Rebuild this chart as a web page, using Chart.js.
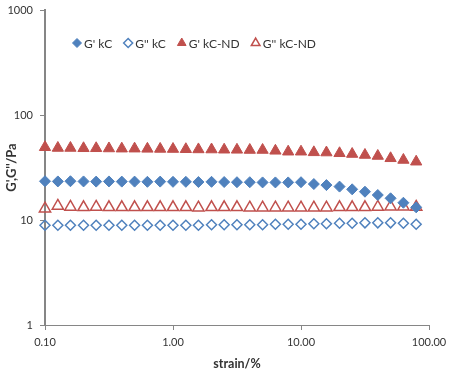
<!DOCTYPE html>
<html>
<head>
<meta charset="utf-8">
<script src="https://cdn.jsdelivr.net/npm/chart.js@4"></script>
<style>
body { margin: 0; background: #fff; }
</style>
</head>
<body>
<canvas id="strainSweep" width="474" height="377"></canvas>
<script>
// strain sweep, % (x) and moduli, Pa (y)
const strain = [0.1, 0.126, 0.158, 0.2, 0.251, 0.316, 0.398, 0.501, 0.631, 0.794,
    1, 1.26, 1.58, 2, 2.51, 3.16, 3.98, 5.01, 6.31, 7.94,
    10, 12.6, 15.8, 20, 25.1, 31.6, 39.8, 50.1, 63.1, 79.4];

const gpKC = [23.4, 23.3, 23.4, 23.3, 23.2, 23.3, 23.2, 23.2, 23.1, 23.2,
    23.1, 23.1, 23.0, 23.1, 23.0, 22.9, 22.9, 22.8, 22.8, 22.8,
    22.9, 22.0, 21.5, 20.8, 19.6, 18.6, 17.3, 16.1, 14.6, 13.2];
const gppKC = [8.9, 8.9, 8.9, 8.9, 8.9, 8.9, 8.9, 8.9, 8.9, 8.9,
    8.9, 8.9, 8.9, 9.0, 9.0, 9.0, 9.0, 9.0, 9.1, 9.1,
    9.1, 9.2, 9.2, 9.3, 9.3, 9.4, 9.4, 9.4, 9.3, 9.1];
const gpKCND = [49.3, 48.5, 48.5, 48.2, 48.2, 48.0, 47.8, 47.8, 47.6, 47.5,
    47.4, 47.2, 47.0, 46.9, 46.7, 46.6, 46.4, 46.4, 45.6, 44.7,
    44.7, 44.1, 43.9, 43.2, 42.5, 41.6, 40.7, 38.7, 37.3, 35.9];
const gppKCND = [12.8, 13.6, 13.3, 13.2, 13.3, 13.2, 13.2, 13.2, 13.2, 13.2,
    13.2, 13.2, 13.1, 13.2, 13.2, 13.2, 13.1, 13.1, 13.1, 13.1,
    13.1, 13.1, 13.1, 13.2, 13.2, 13.2, 13.3, 13.4, 13.4, 13.3];

const xTicks = [0.1, 1, 10, 100];
const yTicks = [1, 10, 100, 1000];

const blue = '#4F81BD';
const red = '#C0504D';
const axisGrey = '#868686';
const txt = '#333333';

function pts(ys) {
    return strain.map((x, i) => ({x: x, y: ys[i]}));
}

// legend sits inside the plot, top left, like the excel one
const legendInPlot = {
    id: 'legendInPlot',
    afterDraw(chart) {
        const ctx = chart.ctx;
        let x = 72;
        const y = 43;
        ctx.save();
        ctx.font = '12px Lato';
        ctx.textBaseline = 'middle';
        chart.data.datasets.forEach(ds => {
            ctx.fillStyle = ds.backgroundColor;
            ctx.strokeStyle = ds.borderColor;
            ctx.lineWidth = ds.pointBorderWidth;
            Chart.helpers.drawPoint(ctx, {
                pointStyle: ds.pointStyle,
                radius: ds.pointStyle === 'triangle' ? 5 : 4.5,
                rotation: 0,
                borderWidth: ds.pointBorderWidth
            }, x + 5, y);
            ctx.fillStyle = txt;
            ctx.fillText(ds.label, x + 12, y + 1);
            x += 12 + ctx.measureText(ds.label).width + 11;
        });
        ctx.restore();
    }
};

new Chart(document.getElementById('strainSweep'), {
    type: 'scatter',
    data: {
        datasets: [{
            label: "G' kC",
            data: pts(gpKC),
            pointStyle: 'rectRot',
            pointRadius: 5.5,
            pointBorderWidth: 1,
            backgroundColor: blue,
            borderColor: blue,
            clip: false
        }, {
            label: "G'' kC",
            data: pts(gppKC),
            pointStyle: 'rectRot',
            pointRadius: 5,
            pointBorderWidth: 1.5,
            backgroundColor: 'rgba(0,0,0,0)',
            borderColor: blue,
            clip: false
        }, {
            label: "G' kC-ND",
            data: pts(gpKCND),
            pointStyle: 'triangle',
            pointRadius: 6.5,
            pointBorderWidth: 1,
            backgroundColor: red,
            borderColor: red,
            clip: false
        }, {
            label: "G'' kC-ND",
            data: pts(gppKCND),
            pointStyle: 'triangle',
            pointRadius: 6.5,
            pointBorderWidth: 1.5,
            backgroundColor: 'rgba(0,0,0,0)',
            borderColor: red,
            clip: false
        }]
    },
    options: {
        responsive: false,
        animation: false,
        layout: {
            padding: {top: 10, right: 45, left: 0, bottom: 0}
        },
        plugins: {
            legend: {display: false},
            tooltip: {enabled: false}
        },
        scales: {
            x: {
                type: 'logarithmic',
                min: 0.1,
                max: 100,
                afterBuildTicks: s => { s.ticks = xTicks.map(v => ({value: v})); },
                afterFit: s => {
                    s.height = 52;
                    s.paddingLeft = 0;
                    s.paddingRight = 0;
                },
                ticks: {
                    callback: v => Number(v).toFixed(2),
                    font: {family: 'Lato', size: 11},
                    color: txt,
                    padding: 6,
                    maxRotation: 0,
                    autoSkip: false
                },
                grid: {drawOnChartArea: false, drawTicks: true, tickLength: 5, color: axisGrey},
                border: {color: axisGrey, width: 1},
                title: {
                    display: true,
                    text: 'strain/%',
                    font: {family: 'Lato', size: 12.5, weight: 'bold'},
                    color: txt,
                    padding: {top: 0, bottom: 6}
                }
            },
            y: {
                type: 'logarithmic',
                min: 1,
                max: 1000,
                afterBuildTicks: s => { s.ticks = yTicks.map(v => ({value: v})); },
                afterFit: s => {
                    s.width = 45;
                    s.paddingTop = 0;
                    s.paddingBottom = 0;
                },
                ticks: {
                    callback: v => String(v),
                    font: {family: 'Lato', size: 11},
                    color: txt,
                    padding: 7,
                    autoSkip: false
                },
                grid: {drawOnChartArea: false, drawTicks: true, tickLength: 5, color: axisGrey},
                border: {color: axisGrey, width: 2},
                title: {
                    display: true,
                    text: "G',G''/Pa",
                    font: {family: 'Lato', size: 13, weight: 'bold'},
                    color: txt,
                    padding: {top: 4, bottom: 0}
                }
            }
        }
    },
    plugins: [legendInPlot]
});
</script>
</body>
</html>
